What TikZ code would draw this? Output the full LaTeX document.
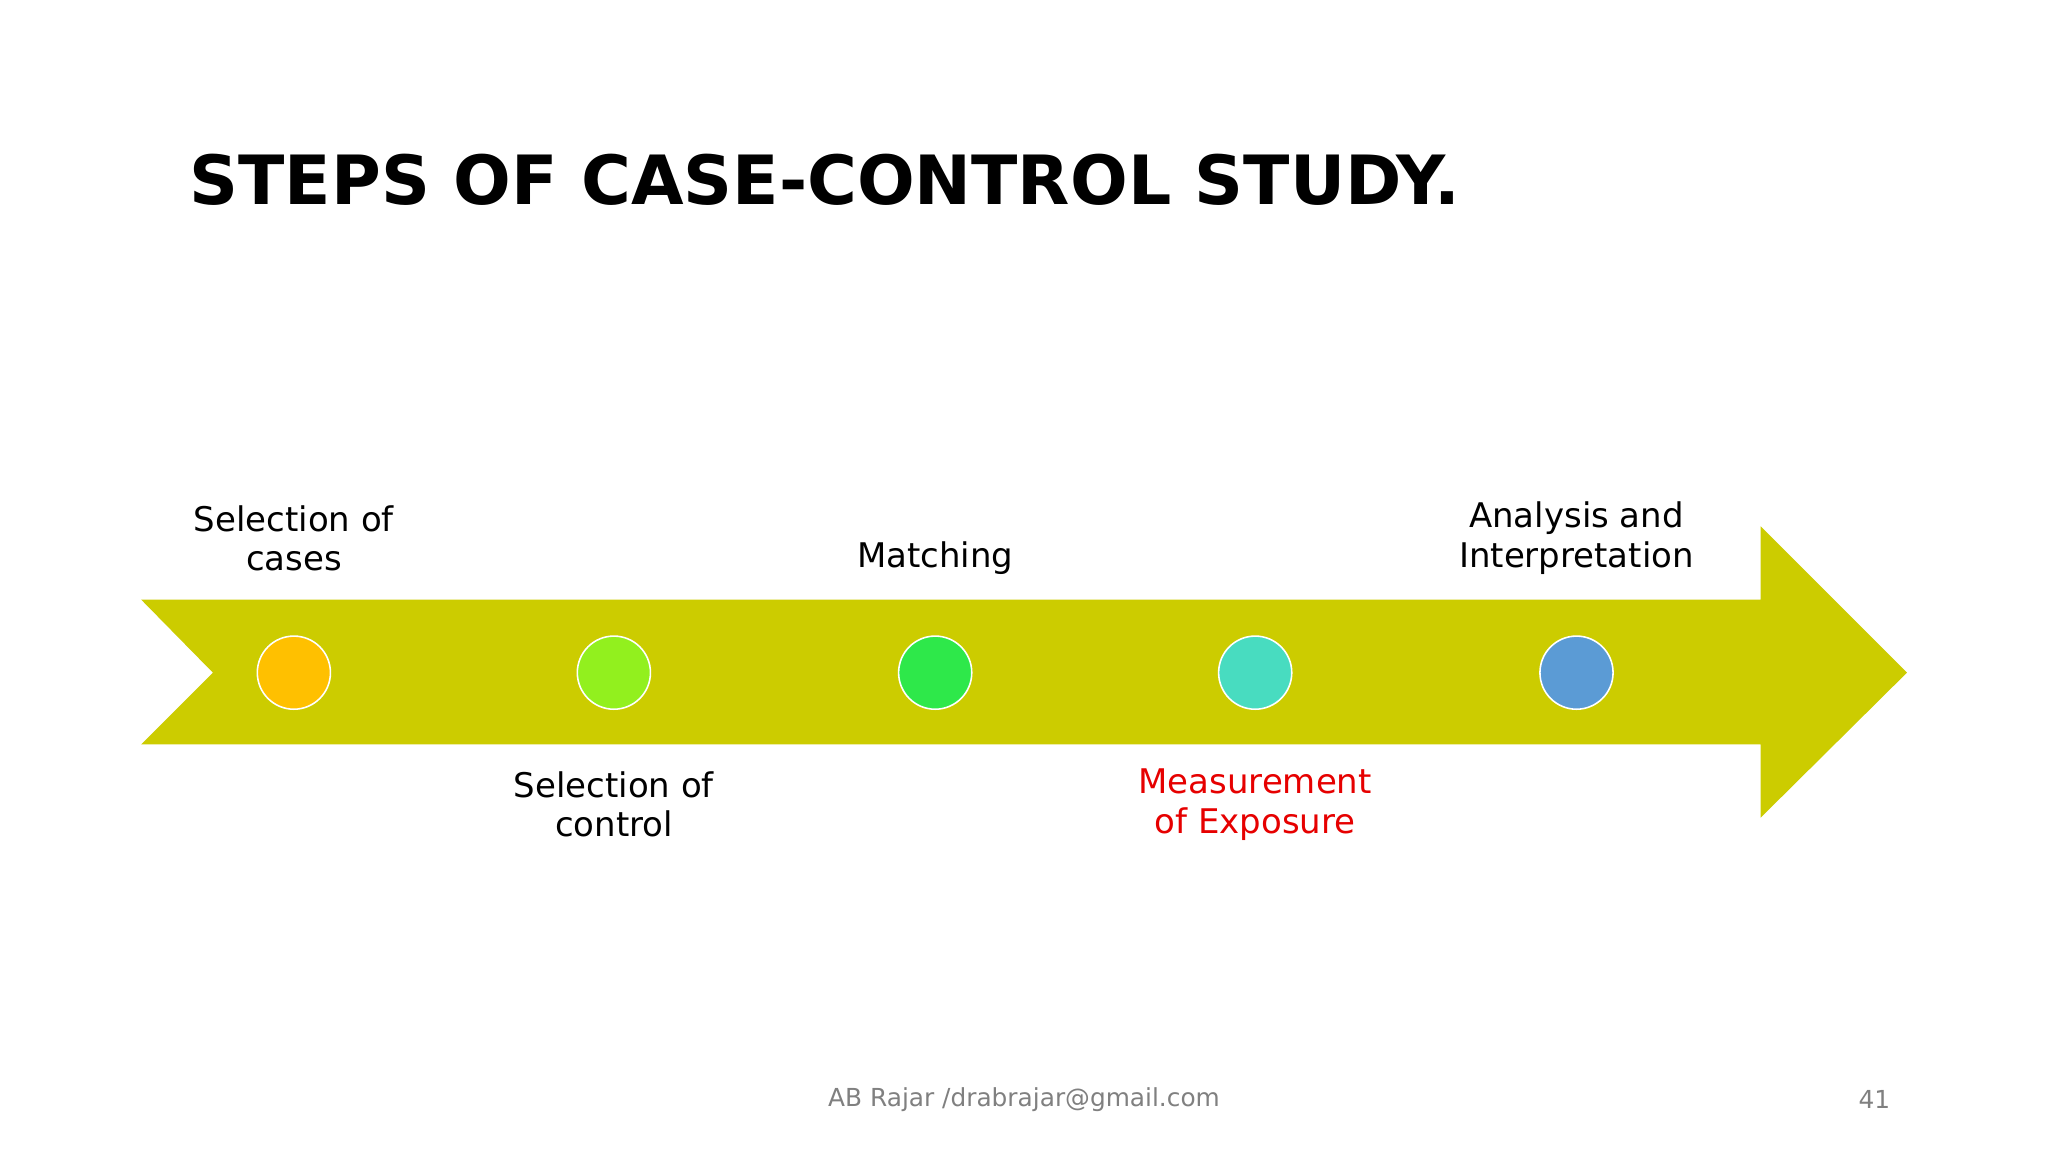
\documentclass[tikz,border=0pt]{standalone}
\usepackage{fontspec}
\setmainfont{DejaVu Sans}
\begin{document}
\begin{tikzpicture}[x=1pt,y=-1pt,
  dot/.style={circle,draw=white,line width=1.2pt,minimum size=56pt,inner sep=0pt},
  lbl/.style={align=center,font=\fontsize{26}{30}\selectfont,inner sep=0pt}]
\useasboundingbox (0,0) rectangle (1568,882);
\fill[white] (0,0) rectangle (1568,882);
\node[anchor=west,inner sep=0pt,font=\fontsize{52}{60}\selectfont\bfseries] (title) at (145,138) {STEPS OF CASE-CONTROL STUDY.};
\fill[fill={rgb,255:red,204;green,204;blue,0}] (108,459) -- (1348,459) -- (1348,403) -- (1460,515) -- (1348,626) -- (1348,570) -- (108,570) -- (163,515) -- cycle;
\node[dot,fill={rgb,255:red,255;green,192;blue,0}] (c1) at (225,515) {};
\node[dot,fill={rgb,255:red,146;green,240;blue,30}] (c2) at (470,515) {};
\node[dot,fill={rgb,255:red,46;green,232;blue,74}] (c3) at (716,515) {};
\node[dot,fill={rgb,255:red,72;green,220;blue,192}] (c4) at (961,515) {};
\node[dot,fill={rgb,255:red,91;green,155;blue,213}] (c5) at (1207,515) {};
\node[lbl] (t1) at (225,412) {Selection of\\cases};
\node[lbl] (t2) at (470,616) {Selection of\\control};
\node[lbl] (t3) at (716,427) {Matching};
\node[lbl,text={rgb,255:red,230;green,0;blue,0}] (t4) at (961,616) {Measurement\\of Exposure};
\node[lbl] (t5) at (1207,412) {Analysis and\\Interpretation};
\node[font=\fontsize{19}{22}\selectfont,text=gray] (f) at (784,842) {AB Rajar /drabrajar@gmail.com};
\node[font=\fontsize{19}{22}\selectfont,text=gray] (n) at (1435,842) {41};
\end{tikzpicture}
\end{document}
